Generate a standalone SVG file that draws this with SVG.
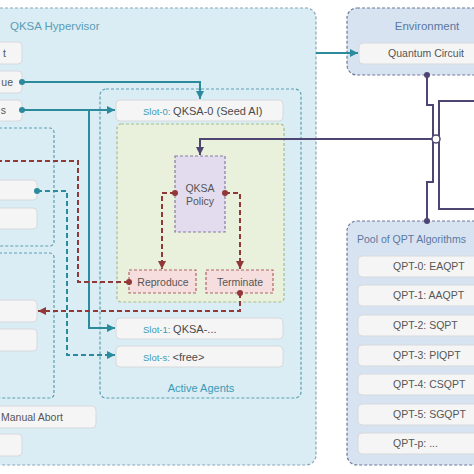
<svg xmlns="http://www.w3.org/2000/svg" width="474" height="474" viewBox="0 0 474 474">
<defs>
<style>
.panel{fill:#daecf4;stroke:#86a7b7;stroke-width:1.2;stroke-dasharray:3 2}
.sub{fill:none;stroke:#5d9fb1;stroke-width:1.2;stroke-dasharray:3 2}
.env{fill:#d8e3f1;stroke:#6b7896;stroke-width:1.2;stroke-dasharray:3 2}
.box{fill:#f5f5f5;stroke:#d6d9dc;stroke-width:1}
.t{font-family:"Liberation Sans",Arial,sans-serif;font-size:10.5px;fill:#555}
.title{font-family:"Liberation Sans",Arial,sans-serif;font-size:11.5px}
.teal{fill:none;stroke:#2b8b9d;stroke-width:2}
.tealD{fill:none;stroke:#2b8b9d;stroke-width:2;stroke-dasharray:5 3}
.red{fill:none;stroke:#913838;stroke-width:2;stroke-dasharray:5 3}
.pur{fill:none;stroke:#4f4572;stroke-width:2}
</style>
<marker id="aT" markerUnits="userSpaceOnUse" markerWidth="9" markerHeight="8" refX="8" refY="4" orient="auto"><path d="M0,0 L8,4 L0,8 z" fill="#2b8b9d"/></marker>
<marker id="aR" markerUnits="userSpaceOnUse" markerWidth="9" markerHeight="8" refX="8" refY="4" orient="auto"><path d="M0,0 L8,4 L0,8 z" fill="#913838"/></marker>
<marker id="aP" markerUnits="userSpaceOnUse" markerWidth="9" markerHeight="8" refX="8" refY="4" orient="auto"><path d="M0,0 L8,4 L0,8 z" fill="#4f4572"/></marker>
</defs>
<rect width="474" height="474" fill="#ffffff"/>

<g id="hypervisor">
<rect class="panel" x="-20" y="8" width="336" height="457" rx="10"/>
<text class="title" x="10" y="30" fill="#5b9db4">QKSA Hypervisor</text>
</g>

<g id="left-box-1"><rect class="box" x="-10" y="42" width="32" height="22" rx="4"/><text class="t" x="6" y="57" text-anchor="end">t</text></g>
<g id="left-box-2"><rect class="box" x="-10" y="71" width="32" height="22" rx="4"/><text class="t" x="13" y="86" text-anchor="end">ue</text></g>
<g id="left-box-3"><rect class="box" x="-10" y="100" width="32" height="21" rx="4"/><text class="t" x="6" y="114" text-anchor="end">s</text></g>

<g id="left-panel-1">
<rect class="sub" x="-20" y="128" width="74" height="118" rx="4"/>
<rect class="box" x="-10" y="180" width="47" height="20" rx="4"/>
<rect class="box" x="-10" y="208" width="47" height="21" rx="4"/>
</g>
<g id="left-panel-2">
<rect class="sub" x="-20" y="253" width="74" height="145" rx="4"/>
<rect class="box" x="-10" y="300" width="47" height="22" rx="4"/>
<rect class="box" x="-10" y="329" width="47" height="22" rx="4"/>
</g>
<g id="manual-abort"><rect class="box" x="-10" y="406" width="106" height="22" rx="4"/><text class="t" x="1" y="421">Manual Abort</text></g>
<g id="left-box-last"><rect class="box" x="-10" y="434" width="32" height="22" rx="4"/></g>

<g id="active-agents">
<rect class="sub" x="100" y="89" width="201" height="309" rx="6"/>
<text class="title" x="201" y="392" text-anchor="middle" fill="#3a9bb5" style="font-size:11px">Active Agents</text>
</g>
<g id="slot-0">
<rect class="box" x="116" y="100" width="167" height="21" rx="4"/>
<text class="t" x="143" y="115"><tspan fill="#3a9bb5" font-size="9.5">Slot-0: </tspan><tspan fill="#4a4a4a" font-size="11">QKSA-0 (Seed AI)</tspan></text>
</g>
<g id="seed-ai-core">
<rect x="117" y="124" width="167" height="178" rx="4" fill="#e9f0dc" stroke="#a9bf86" stroke-width="1.2" stroke-dasharray="3 2"/>
</g>
<g id="policy">
<rect x="175" y="156" width="50" height="76" fill="#e3dcef" stroke="#8a7aa5" stroke-width="1.2" stroke-dasharray="3 2"/>
<text class="t" x="200" y="192" text-anchor="middle" font-size="11">QKSA</text>
<text class="t" x="200" y="205" text-anchor="middle" font-size="11">Policy</text>
</g>
<g id="reproduce">
<rect x="129" y="270" width="67" height="23" fill="#f6dede" stroke="#b06464" stroke-width="1.2" stroke-dasharray="3 2"/>
<text class="t" x="163" y="286" text-anchor="middle">Reproduce</text>
</g>
<g id="terminate">
<rect x="206" y="270" width="67" height="23" fill="#f6dede" stroke="#b06464" stroke-width="1.2" stroke-dasharray="3 2"/>
<text class="t" x="240" y="286" text-anchor="middle">Terminate</text>
</g>
<g id="slot-1">
<rect class="box" x="116" y="318" width="167" height="21" rx="4"/>
<text class="t" x="143" y="333"><tspan fill="#3a9bb5" font-size="9.5">Slot-1: </tspan><tspan fill="#4a4a4a" font-size="11">QKSA-...</tspan></text>
</g>
<g id="slot-s">
<rect class="box" x="116" y="346" width="167" height="21" rx="4"/>
<text class="t" x="143" y="361"><tspan fill="#3a9bb5" font-size="9.5">Slot-s: </tspan><tspan fill="#4a4a4a" font-size="11">&lt;free&gt;</tspan></text>
</g>

<g id="environment">
<rect class="env" x="347" y="8" width="150" height="67" rx="10"/>
<text class="title" x="427" y="30" text-anchor="middle" fill="#5a78a2">Environment</text>
<rect class="box" x="359" y="43" width="130" height="21" rx="4"/>
<text class="t" x="426" y="57" text-anchor="middle">Quantum Circuit</text>
</g>

<g id="qpt-pool">
<rect class="env" x="347" y="221" width="150" height="244" rx="10"/>
<text class="title" x="357" y="243" fill="#5a78a2" style="font-size:10.5px">Pool of QPT Algorithms</text>
<rect class="box" x="358" y="256" width="130" height="21" rx="4"/><text class="t" x="393" y="270" font-size="10">QPT-0: EAQPT</text>
<rect class="box" x="358" y="285" width="130" height="21" rx="4"/><text class="t" x="393" y="299" font-size="10">QPT-1: AAQPT</text>
<rect class="box" x="358" y="315" width="130" height="21" rx="4"/><text class="t" x="393" y="329" font-size="10">QPT-2: SQPT</text>
<rect class="box" x="358" y="345" width="130" height="21" rx="4"/><text class="t" x="393" y="359" font-size="10">QPT-3: PIQPT</text>
<rect class="box" x="358" y="374" width="130" height="21" rx="4"/><text class="t" x="393" y="388" font-size="10">QPT-4: CSQPT</text>
<rect class="box" x="358" y="404" width="130" height="21" rx="4"/><text class="t" x="393" y="418" font-size="10">QPT-5: SGQPT</text>
<rect class="box" x="358" y="433" width="130" height="21" rx="4"/><text class="t" x="393" y="447" font-size="10">QPT-p: ...</text>
</g>

<g id="connectors">
<path class="teal" d="M22,82 H200 V99" marker-end="url(#aT)"/>
<path class="teal" d="M22,110 H115" marker-end="url(#aT)"/>
<path class="teal" d="M89,110 V328 H115" marker-end="url(#aT)"/>
<path class="teal" d="M316,53 H358" marker-end="url(#aT)"/>
<path class="tealD" d="M37,191 H67 V355 H115" marker-end="url(#aT)"/>
<path class="red" d="M129,282 H78 V161 H-5"/>
<path class="red" d="M175,193 H162 V269" marker-end="url(#aR)"/>
<path class="red" d="M225,193 H240 V269" marker-end="url(#aR)"/>
<path class="red" d="M240,293 V311 H38" marker-end="url(#aR)"/>
<path class="pur" d="M427,75 V105 H433 V182 H427 V221"/>
<path class="pur" d="M480,101 H439 V209 H480"/>
<path class="pur" d="M432,139 H200 V155" marker-end="url(#aP)"/>
<circle cx="436" cy="139" r="4" fill="#ffffff" stroke="#4f4572" stroke-width="1.5"/>
<g fill="#2b8b9d"><circle cx="22" cy="82" r="3"/><circle cx="22" cy="110" r="3"/><circle cx="37" cy="191" r="3"/></g>
<g fill="#913838"><circle cx="129" cy="282" r="3"/><circle cx="175" cy="193" r="3"/><circle cx="225" cy="193" r="3"/><circle cx="240" cy="293" r="3"/></g>
<g fill="#4f4572"><circle cx="427" cy="75" r="3"/><circle cx="427" cy="221" r="3"/></g>
</g>
</svg>
